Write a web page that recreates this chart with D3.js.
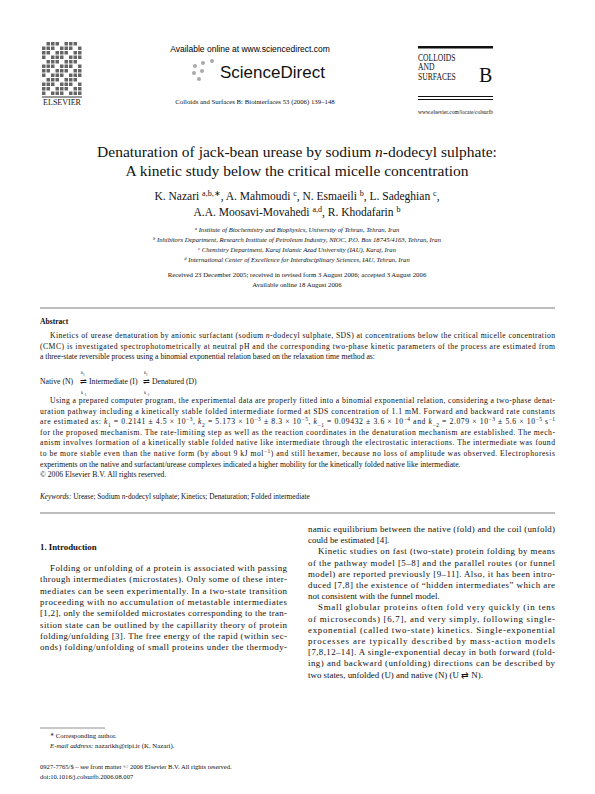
<!DOCTYPE html>
<html><head><meta charset="utf-8">
<script src="https://cdn.jsdelivr.net/npm/d3@7"></script>
<style>body{margin:0;background:#fff}svg{display:block}</style>
</head><body>
<script>
const titleLines=["Denaturation of jack-bean urease by sodium <i>n</i>-dodecyl sulphate:","A kinetic study below the critical micelle concentration"];
const authorLines=["K. Nazari <sup>a,b,∗</sup>, A. Mahmoudi <sup>c</sup>, N. Esmaeili <sup>b</sup>, L. Sadeghian <sup>c</sup>,","A.A. Moosavi-Movahedi <sup>a,d</sup>, R. Khodafarin <sup>b</sup>"];
const affLines=["<sup>a</sup> Institute of Biochemistry and Biophysics, University of Tehran, Tehran, Iran","<sup>b</sup> Inhibitors Department, Research Institute of Petroleum Industry, NIOC, P.O. Box 18745/4163, Tehran, Iran","<sup>c</sup> Chemistry Department, Karaj Islamic Azad University (IAU), Karaj, Iran","<sup>d</sup> International Center of Excellence for Interdisciplinary Sciences, IAU, Tehran, Iran"];
const dateLines=["Received 23 December 2005; received in revised form 3 August 2006; accepted 3 August 2006","Available online 18 August 2006"];
const abs1=["Kinetics of urease denaturation by anionic surfactant (sodium <i>n</i>-dodecyl sulphate, SDS) at concentrations below the critical micelle concentration","(CMC) is investigated spectrophotometrically at neutral pH and the corresponding two-phase kinetic parameters of the process are estimated from","a three-state reversible process using a binomial exponential relation based on the relaxation time method as:"];
const abs2=["Using a prepared computer program, the experimental data are properly fitted into a binomial exponential relation, considering a two-phase denat-","uration pathway including a kinetically stable folded intermediate formed at SDS concentration of 1.1 mM. Forward and backward rate constants","are estimated as: <i>k</i><sub>1</sub> = 0.2141 ± 4.5 × 10<sup>−3</sup>, <i>k</i><sub>2</sub> = 5.173 × 10<sup>−3</sup> ± 8.3 × 10<sup>−5</sup>, <i>k</i><sub>−1</sub> = 0.09432 ± 3.6 × 10<sup>−4</sup> and <i>k</i><sub>−2</sub> = 2.079 × 10<sup>−3</sup> ± 5.6 × 10<sup>−5</sup> s<sup>−1</sup>","for the proposed mechanism. The rate-limiting step as well as the reaction coordinates in the denaturation mechanism are established. The mech-","anism involves formation of a kinetically stable folded native like intermediate through the electrostatic interactions. The intermediate was found","to be more stable even than the native form (by about 9 kJ mol<sup>−1</sup>) and still hexamer, because no loss of amplitude was observed. Electrophoresis","experiments on the native and surfactant/urease complexes indicated a higher mobility for the kinetically folded native like intermediate.","© 2006 Elsevier B.V. All rights reserved."];
const keywords="<i>Keywords:</i>  Urease; Sodium <i>n</i>-dodecyl sulphate; Kinetics; Denaturation; Folded intermediate";
const leftCol=["Folding or unfolding of a protein is associated with passing","through intermediates (microstates). Only some of these inter-","mediates can be seen experimentally. In a two-state transition","proceeding with no accumulation of metastable intermediates","[1,2], only the semifolded microstates corresponding to the tran-","sition state can be outlined by the capillarity theory of protein","folding/unfolding [3]. The free energy of the rapid (within sec-","onds) folding/unfolding of small proteins under the thermody-"];
const rightCol=["namic equilibrium between the native (fold) and the coil (unfold)","could be estimated [4].","Kinetic studies on fast (two-state) protein folding by means","of the pathway model [5–8] and the parallel routes (or funnel","model) are reported previously [9–11]. Also, it has been intro-","duced [7,8] the existence of “hidden intermediates” which are","not consistent with the funnel model.","Small globular proteins often fold very quickly (in tens","of microseconds) [6,7], and very simply, following single-","exponential (called two-state) kinetics. Single-exponential","processes are typically described by mass-action models","[7,8,12–14]. A single-exponential decay in both forward (fold-","ing) and backward (unfolding) directions can be described by","two states, unfolded (U) and native (N) (U ⇄ N)."];
const rightIndent=[2,7], rightNoJust=[1,6,13];
const footLines=["<sup>∗</sup>  Corresponding author.","<i>E-mail address:</i> nazarikh@ripi.ir (K. Nazari)."];
const bottomLines=["0927-7765/$ – see front matter © 2006 Elsevier B.V. All rights reserved.","doi:10.1016/j.colsurfb.2006.08.007"];

const W=595,H=794,F="'Liberation Serif','Times New Roman',serif";
const svg=d3.select("body").append("svg").attr("width",W).attr("height",H).style("font-family",F);
const x=d3.scaleLinear().domain([0,1]).range([40,555]);

function rich(sel,html,size){
  const re=/<(i|sub|sup)>(.*?)<\/\1>|([^<]+)/g;let m;
  while((m=re.exec(html))){
    if(m[3]) sel.append("tspan").text(m[3]);
    else{const t=sel.append("tspan").text(m[2]);
      if(m[1]=="i") t.attr("font-style","italic");
      else{t.attr("font-size",size*0.7).attr("baseline-shift",m[1]=="sup"?"super":"sub");}}
  }
}
function line(html,xx,y,size,opt={}){
  const t=svg.append("text").attr("x",xx).attr("y",y).attr("font-size",size).attr("fill","#111");
  if(opt.anchor)t.attr("text-anchor",opt.anchor);
  if(opt.italic)t.attr("font-style","italic");
  if(opt.bold)t.attr("font-weight","bold");
  if(opt.len){t.attr("textLength",opt.len).attr("lengthAdjust","spacing");}
  rich(t,html,size);return t;
}
// header
const logo=svg.append("g");
d3.range(0,12).forEach(r=>d3.range(0,9).forEach(c=>{if((r*7+c*3)%4!=0)logo.append("rect").attr("x",42+c*4.5).attr("y",42+r*4.5).attr("width",3.5).attr("height",3.5).attr("fill","#666");}));
svg.append("line").attr("x1",42).attr("x2",82).attr("y1",97).attr("y2",97).attr("stroke","#333");
line("ELSEVIER",62,105,8,{anchor:"middle"});
svg.append("text").attr("x",250).attr("y",52).attr("text-anchor","middle").attr("font-size",8.5).attr("font-family","'Liberation Sans',Arial").text("Available online at www.sciencedirect.com");
[[195,66],[203,63],[212,61],[194,73],[202,71],[199,79]].forEach(p=>svg.append("circle").attr("cx",p[0]).attr("cy",p[1]).attr("r",2).attr("fill","#aaa"));
svg.append("text").attr("x",220).attr("y",78).attr("font-size",17).attr("font-family","'Liberation Sans',Arial").attr("fill","#111").text("ScienceDirect");
line("Colloids and Surfaces B: Biointerfaces 53 (2006) 139–148",255,104,6.8,{anchor:"middle"});
svg.append("rect").attr("x",418).attr("y",46).attr("width",75).attr("height",2.5).attr("fill","#111");
["COLLOIDS","AND","SURFACES"].forEach((s,i)=>line(s,418,61+i*9.5,9.5,{}).attr("transform",`translate(418,0) scale(0.8,1) translate(-418,0)`));
line("B",479,82,20,{});
svg.append("rect").attr("x",418).attr("y",96).attr("width",75).attr("height",1).attr("fill","#111");
svg.append("rect").attr("x",418).attr("y",99).attr("width",75).attr("height",1).attr("fill","#111");
line("www.elsevier.com/locate/colsurfb",418,114,5.5,{len:75});
// title
titleLines.forEach((s,i)=>line(s,297,157+i*19,15.5,{anchor:"middle"}));
authorLines.forEach((s,i)=>line(s,297,200+i*16,11.5,{anchor:"middle"}));
affLines.forEach((s,i)=>line(s,297,232+i*10,6.6,{anchor:"middle",italic:true}));
dateLines.forEach((s,i)=>line(s,297,277+i*10,6.8,{anchor:"middle"}));
svg.append("line").attr("x1",40).attr("x2",555).attr("y1",308).attr("y2",308).attr("stroke","#444").attr("stroke-width",0.7);
line("Abstract",40,324,7.6,{bold:true});
const L=x(1)-x(0), AS=7.7;
abs1.forEach((s,i)=>line(s,i==0?x(0)+10:x(0),338+i*10.6,AS,{len:i<2?(i==0?L-10:L):null}));
// equation
line("Native (N)",40,384,AS,{});
line("⇌",80,384,8,{});line("<i>k</i><sub>1</sub>",81,374,4.5,{});line("<i>k</i><sub>−1</sub>",81,394,4.5,{});
line("Intermediate (I)",89,384,AS,{});
line("⇌",143,384,8,{});line("<i>k</i><sub>1</sub>",144,374,4.5,{});line("<i>k</i><sub>−2</sub>",144,394,4.5,{});
line("Denatured (D)",152,384,AS,{});
abs2.forEach((s,i)=>line(s,i==0?x(0)+10:x(0),403+i*10.6,AS,{len:i<6?(i==0?L-10:L):null}));
line(keywords,40,499,7.3,{});
svg.append("line").attr("x1",40).attr("x2",555).attr("y1",513).attr("y2",513).attr("stroke","#444").attr("stroke-width",0.7);
line("1.  Introduction",40,550,8.8,{bold:true});
const cw=247, BS=8.9;
leftCol.forEach((s,i)=>line(s,i==0?50:40,571+i*11.3,BS,{len:i==0?cw-10:cw}));
rightCol.forEach((s,i)=>{const ind=rightIndent.includes(i);line(s,ind?318:308,532+i*11.2,BS,{len:rightNoJust.includes(i)?null:(ind?cw-10:cw)});});
svg.append("line").attr("x1",40).attr("x2",105).attr("y1",728).attr("y2",728).attr("stroke","#222").attr("stroke-width",0.5);
footLines.forEach((s,i)=>line(s,50,738+i*10,6.8,{}));
bottomLines.forEach((s,i)=>line(s,40,769+i*9.5,6.6,{}));
</script>
</body></html>
